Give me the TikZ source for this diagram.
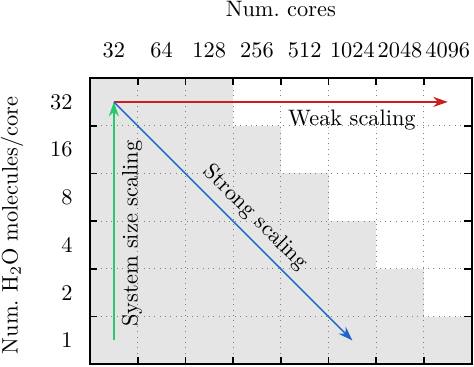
\documentclass[tikz,border=0pt]{standalone}
\usepackage{amsmath,amssymb}
\usepackage{xcolor}
\usepackage{tikz}
\usetikzlibrary{positioning,%
  arrows,%
  arrows.meta,%
  calc
}
\definecolor{weakred}{RGB}{204,30,30}
\definecolor{strongblue}{RGB}{30,100,200}
\definecolor{sizegreen}{RGB}{40,200,110}
\tikzset{
  scalearrow/.style={semithick,-{Stealth[length=6.5pt,width=4.5pt]}},
  tickmark/.style={thick,black}
}

\begin{document}
\begin{tikzpicture}[scale=0.75]
            \useasboundingbox (-1.887,-0.053) rectangle (8.05,7.637);
            % cells that are run
            \foreach \j in {0,...,5}
              \fill [gray!20] (0,\j) rectangle ({8-\j},\j+1);
            \draw [gray, dotted] (0,0) grid (8,6);
            \draw [thick] (0,0) rectangle (8,6);
            \foreach \i in {1,...,7} {
              \draw [tickmark] (\i,0) -- (\i,0.15);
              \draw [tickmark] (\i,6) -- (\i,5.85);
            }
            \foreach \j in {1,...,5} {
              \draw [tickmark] (0,\j) -- (0.15,\j);
              \draw [tickmark] (8,\j) -- (7.85,\j);
            }

            % axis labels
            \foreach \c [count=\i from 0] in {32,64,128,256,512,1024,2048,4096}
              \node (core\i) at (\i+0.5,6.59) {\c};
            \foreach \m [count=\j from 0] in {1,2,4,8,16,32}
              \node [left] (mol\j) at (-0.2,\j+0.5) {\m};
            \node (cores) at (4,7.44) {Num.\ cores};
            \node [rotate=90] (molecules) at (-1.635,2.91) {Num.\ H$_2$O molecules/core};

            % scaling directions
            \coordinate (start) at (0.5,5.5);
            \coordinate (weakend) at (7.5,5.5);
            \coordinate (strongend) at (5.5,0.5);
            \coordinate (sizestart) at (0.5,0.5);
            \draw [scalearrow, weakred] (start) -- node [pos=0.713, below, text=black] (weak) {Weak scaling} (weakend);
            \draw [scalearrow, sizegreen] (sizestart) -- node [pos=0.448, sloped, below, text=black] (size) {System size scaling} (start);
            \draw [scalearrow, strongblue] (start) -- node [pos=0.54, sloped, above, text=black] (strong) {Strong scaling} (strongend);
        \end{tikzpicture}
\end{document}
